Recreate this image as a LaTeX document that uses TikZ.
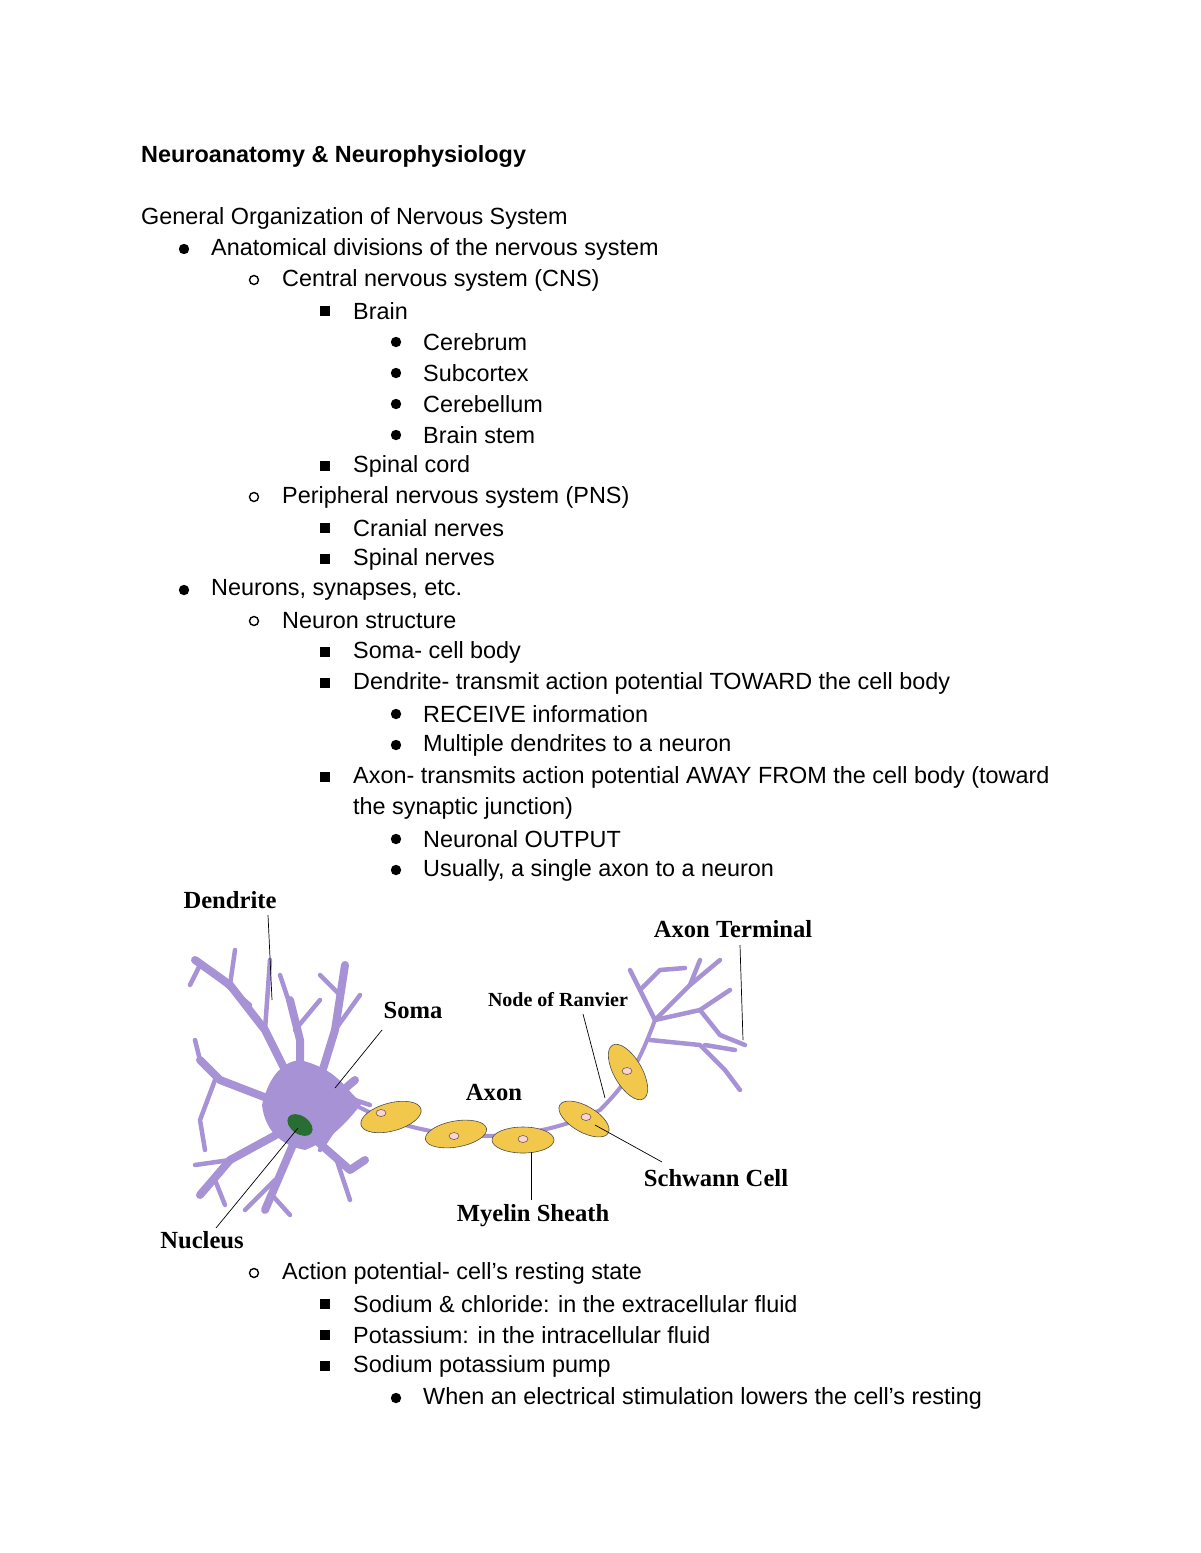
\documentclass[tikz,border=0pt]{standalone}
\usepackage{fontspec}
\setmainfont{Liberation Sans}
\newfontfamily\lbl{Liberation Serif}
\begin{document}
\begin{tikzpicture}[x=1pt,y=-1pt]
\definecolor{neu}{RGB}{168,146,214}
\definecolor{mye}{RGB}{242,200,76}
\definecolor{nuc}{RGB}{40,110,50}
\tikzset{txt/.style={anchor=west,inner sep=0pt,font=\fontsize{23.4}{26}\selectfont},
 lab/.style={inner sep=0pt,font=\lbl\bfseries\fontsize{24.6}{27}\selectfont},
 ptr/.style={draw=black,line width=0.7pt},
 den/.style={draw=neu,line width=8pt,line cap=round,line join=round},
 dent/.style={draw=neu,line width=4.5pt,line cap=round,line join=round},
 my/.style={fill=mye,draw=black!70,line width=0.6pt},
 dot/.style={fill=pink!70,draw=black!70,line width=0.5pt}}
\fill[white] (0,0) rectangle (1200,1553);
\node[txt,font=\bfseries\fontsize{23.4}{26}\selectfont] (t) at (141,156) {Neuroanatomy \& Neurophysiology};
\node[txt] (g) at (141,218) {General Organization of Nervous System};
\newcommand{\lA}[3]{\fill (184,#1) circle (5.2); \node[txt] (#3) at (211,#1) {#2};}
\newcommand{\lB}[3]{\draw[line width=1.4pt] (254,#1) circle (4.5); \node[txt] (#3) at (282,#1) {#2};}
\newcommand{\lC}[3]{\fill (320,#1-5) rectangle (330,#1+5); \node[txt] (#3) at (353,#1) {#2};}
\newcommand{\lD}[3]{\fill (396,#1) circle (5.2); \node[txt] (#3) at (423,#1) {#2};}
\lA{249}{Anatomical divisions of the nervous system}{a1}
\lB{280}{Central nervous system (CNS)}{a2}
\lC{311}{Brain}{a3}
\lD{342}{Cerebrum}{a4}
\lD{373}{Subcortex}{a5}
\lD{404}{Cerebellum}{a6}
\lD{435}{Brain stem}{a7}
\lC{466}{Spinal cord}{a8}
\lB{497}{Peripheral nervous system (PNS)}{a9}
\lC{528}{Cranial nerves}{a10}
\lC{559}{Spinal nerves}{a11}
\lA{590}{Neurons, synapses, etc.}{a12}
\lB{621}{Neuron structure}{a13}
\lC{652}{Soma- cell body}{a14}
\lC{683}{Dendrite- transmit action potential TOWARD the cell body}{a15}
\lD{714}{RECEIVE information}{a16}
\lD{745}{Multiple dendrites to a neuron}{a17}
\lC{777}{Axon- transmits action potential AWAY FROM the cell body (toward}{a18}
\node[txt] (a19) at (353,808) {the synaptic junction)};
\lD{839}{Neuronal OUTPUT}{a20}
\lD{870}{Usually, a single axon to a neuron}{a21}
\lB{1273}{Action potential- cell's resting state}{b1}
\lC{1304}{Sodium \& chloride: in the extracellular fluid}{b2}
\lC{1335}{Potassium: in the intracellular fluid}{b3}
\lC{1366}{Sodium potassium pump}{b4}
\lD{1398}{When an electrical stimulation lowers the cell's resting}{b5}
% ---------- neuron ----------
\path[den] (300,1100) -- (265,1030) -- (230,985) -- (195,960);
\path[dent] (230,985) -- (235,950); \path[dent] (265,1030) -- (270,960);
\path[dent] (250,1005) -- (215,975); \path[dent] (200,965) -- (190,985);
\path[den] (300,1100) -- (300,1040) -- (290,1000);
\path[dent] (295,1030) -- (320,1000); \path[dent] (290,1005) -- (280,975);
\path[den] (315,1095) -- (335,1030) -- (345,965);
\path[dent] (335,1030) -- (360,995); \path[dent] (340,995) -- (320,975);
\path[den] (285,1105) -- (220,1080) -- (200,1060);
\path[dent] (215,1080) -- (200,1120) -- (205,1150);
\path[dent] (200,1060) -- (195,1040);
\path[den] (285,1130) -- (230,1160) -- (200,1195);
\path[dent] (230,1160) -- (195,1165); \path[dent] (215,1180) -- (225,1205);
\path[den] (295,1140) -- (265,1210);
\path[dent] (275,1180) -- (245,1210); \path[dent] (272,1195) -- (290,1215);
\path[den] (310,1135) -- (350,1170) -- (365,1160);
\path[dent] (335,1155) -- (350,1200); \path[dent] (320,1150) -- (340,1120);
\path[den] (320,1110) -- (355,1080); \path[dent] (340,1095) -- (370,1105);
\fill[neu] (300,1060) .. controls (340,1070) and (345,1090) .. (362,1103)
 .. controls (345,1125) and (330,1140) .. (305,1150)
 .. controls (280,1145) and (265,1130) .. (262,1105)
 .. controls (268,1080) and (280,1062) .. (300,1060);
\fill[nuc,rotate around={-35:(300,1125)}] (300,1125) ellipse (14 and 9);
\draw[neu,line width=4pt] (355,1105) .. controls (420,1140) and (520,1150) .. (600,1110)
 .. controls (630,1080) and (640,1060) .. (655,1020);
\path[dent] (655,1020) -- (640,990) -- (630,970); \path[dent] (640,990) -- (660,970) -- (685,968);
\path[dent] (655,1020) -- (690,985) -- (720,960); \path[dent] (690,985) -- (700,960);
\path[dent] (655,1020) -- (700,1010) -- (730,990); \path[dent] (700,1010) -- (720,1035) -- (745,1045);
\path[dent] (650,1040) -- (700,1045) -- (725,1070) -- (740,1090);
\path[dent] (705,1045) -- (735,1050);
\filldraw[my,rotate around={15:(391,1117)}] (391,1117) ellipse (31 and 14); \filldraw[dot] (381,1113) ellipse (5 and 3.5);
\filldraw[my,rotate around={10:(456,1134)}] (456,1134) ellipse (31 and 13); \filldraw[dot] (454,1136) ellipse (5 and 3.5);
\filldraw[my] (523,1140) ellipse (31 and 13); \filldraw[dot] (523,1139) ellipse (5 and 3.5);
\filldraw[my,rotate around={-30:(584,1119)}] (584,1119) ellipse (28 and 13); \filldraw[dot] (586,1117) ellipse (5 and 3.5);
\filldraw[my,rotate around={-60:(628,1072)}] (628,1072) ellipse (31 and 14); \filldraw[dot] (627,1071) ellipse (5 and 3.5);
\node[lab] (ld) at (230,900) {Dendrite};
\node[lab] (ls) at (413,1010) {Soma};
\node[lab] (la) at (494,1092) {Axon};
\node[lab,font=\lbl\bfseries\fontsize{20}{22}\selectfont] (lr) at (558,1000) {Node of Ranvier};
\node[lab] (lt) at (733,929) {Axon Terminal};
\node[lab] (lc) at (716,1178) {Schwann Cell};
\node[lab] (lm) at (533,1216) {Myelin Sheath};
\node[lab] (ln) at (202,1240) {Nucleus};
\coordinate (pd) at (272,1000); \coordinate (ps) at (335,1088);
\coordinate (pr) at (605,1098); \coordinate (pt) at (743,1040);
\coordinate (pc) at (595,1125); \coordinate (pm) at (531,1152);
\coordinate (pn) at (298,1128);
\draw[ptr] (268,915) -- (pd);
\draw[ptr] (382,1030) -- (ps);
\draw[ptr] (583,1014) -- (pr);
\draw[ptr] (740,945) -- (pt);
\draw[ptr] (662,1162) -- (pc);
\draw[ptr] (531,1200) -- (pm);
\draw[ptr] (216,1228) -- (pn);
\end{tikzpicture}
\end{document}
